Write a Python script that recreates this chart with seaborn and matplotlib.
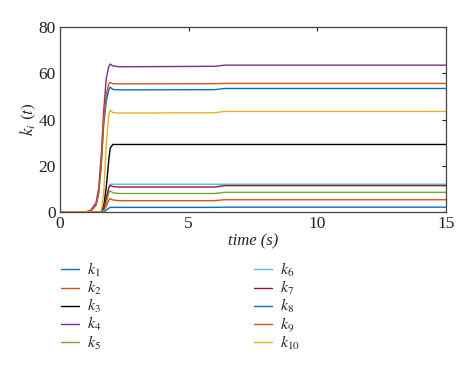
import numpy as np
import pandas as pd
import matplotlib
matplotlib.use("Agg")
import matplotlib.pyplot as plt
import seaborn as sns
from matplotlib.lines import Line2D

# sampled time points (s)
time = [0, 1.0, 1.2, 1.4, 1.5, 1.6, 1.7, 1.8, 1.9, 1.95, 2.05, 2.3, 6.0, 6.4, 15]

k1 = [0, 0, 0, 0, 0, 0, 0.1, 0.8, 1.7, 2.0, 2.0, 2.0, 2.0, 2.1, 2.1]
k2 = [0, 0, 0, 0, 0, 0, 0.3, 2.5, 5.2, 5.8, 5.2, 4.9, 4.9, 5.3, 5.3]
k3 = [0, 0, 0, 0, 0, 0.3, 2.5, 11, 23, 27.5, 29.2, 29.2, 29.2, 29.2, 29.2]
k4 = [0, 0, 0.8, 4, 10, 24, 44, 58, 63, 64, 63.2, 62.8, 63.0, 63.5, 63.5]
k5 = [0, 0, 0, 0, 0, 0, 0.4, 4, 8.5, 9.2, 8.3, 8.0, 8.0, 8.5, 8.5]
k6 = [0, 0, 0, 0, 0, 0.1, 1.0, 6, 11, 12, 12, 12, 12, 12, 12]
k7 = [0, 0, 0, 0, 0, 0.2, 1.5, 6, 10.5, 11.5, 11.0, 10.8, 10.8, 11.4, 11.4]
k8 = [0, 0, 0.5, 3, 8, 20, 38, 48, 53, 54, 53, 52.8, 52.9, 53.4, 53.4]
k9 = [0, 0, 0.5, 3, 8, 20, 40, 51, 55.5, 56, 55.5, 55.4, 55.5, 55.6, 55.6]
k10 = [0, 0, 0, 0, 0, 0.5, 8, 30, 42, 44, 43, 42.8, 42.9, 43.5, 43.5]

labels = ["$k_{1}$", "$k_{2}$", "$k_{3}$", "$k_{4}$", "$k_{5}$",
          "$k_{6}$", "$k_{7}$", "$k_{8}$", "$k_{9}$", "$k_{10}$"]
series = [k1, k2, k3, k4, k5, k6, k7, k8, k9, k10]
colors = ["#0072BD", "#D95319", "#000000", "#7E2F8E", "#77AC30",
          "#4DBEEE", "#A2142F", "#0072BD", "#D95319", "#EDB120"]

rows = []
for lab, vals in zip(labels, series):
    for t, v in zip(time, vals):
        rows.append({"time": t, "value": v, "series": lab})
df = pd.DataFrame(rows)

sns.set_style("white")
plt.rcParams["font.family"] = ["Liberation Serif", "DejaVu Serif"]
plt.rcParams["mathtext.fontset"] = "stix"

fig = plt.figure(figsize=(4.74, 3.66), dpi=100)
ax = fig.add_axes([60/474, 1-212/366, 386/474, 185/366])

sns.lineplot(data=df, x="time", y="value", hue="series", hue_order=labels,
             palette=dict(zip(labels, colors)), linewidth=1.0, ax=ax,
             legend=False, estimator=None, sort=False)

ax.set_xlim(0, 15)
ax.set_ylim(0, 80)
ax.set_xticks([0, 5, 10, 15])
ax.set_yticks([0, 20, 40, 60, 80])
ax.tick_params(direction="in", length=3, width=0.8, top=True, right=True,
               labelsize=12.5, colors="#222222", pad=3)
for s in ax.spines.values():
    s.set_color("#444444")
    s.set_linewidth(0.9)
ax.set_xlabel("time (s)", fontstyle="italic", fontsize=12, labelpad=1)
ax.set_ylabel("$k_i\\ (t)$", fontsize=12.5, labelpad=0)

handles = [Line2D([0], [0], color=c, lw=1.0) for c in colors]
leg_kw = dict(frameon=False, fontsize=11.5, handlelength=1.15, handletextpad=0.5,
              labelspacing=0.0, borderaxespad=0, borderpad=0)
fig.legend(handles[:5], labels[:5], loc="upper left",
           bbox_to_anchor=(61/474, 1-261/366), **leg_kw)
fig.legend(handles[5:], labels[5:], loc="upper left",
           bbox_to_anchor=(254/474, 1-261/366), **leg_kw)

fig.savefig("out.png", dpi=100)
